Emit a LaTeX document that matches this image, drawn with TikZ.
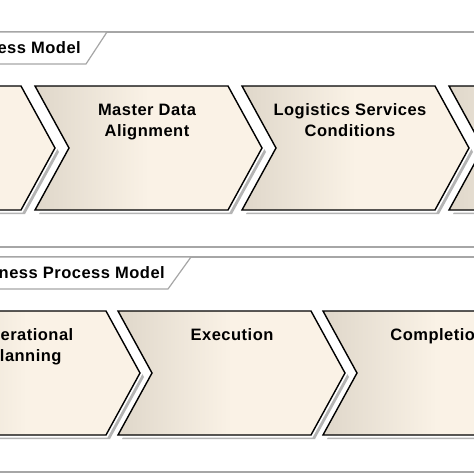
\documentclass[tikz,border=0pt]{standalone}
\usepackage{fontspec}
\setmainfont{Liberation Sans}[LetterSpace=3]
\definecolor{chevA}{HTML}{DFD7CA}
\definecolor{chevB}{HTML}{FAF2E6}
\definecolor{framegray}{HTML}{A6A6A6}
\definecolor{shadowgray}{HTML}{B4B4B4}
\pgfdeclarehorizontalshading{chevshade}{100bp}{color(0bp)=(chevA); color(25bp)=(chevA); color(50bp)=(chevB); color(100bp)=(chevB)}
\newcommand\chevpath[2]{(#1,#2) -- ++(193,0) -- ++(34,62) -- ++(-34,62) -- ++(-193,0) -- ++(34,-62) -- cycle}
\newcommand\chevron[2]{%
  \fill[shadowgray, shift={(4,4)}] \chevpath{#1}{#2};
  \draw[white, line width=5pt, line join=miter] \chevpath{#1}{#2};
  \shadedraw[shading=chevshade, draw=black, line width=1.4pt, line join=miter] \chevpath{#1}{#2};
}
\tikzset{
  framestyle/.style={draw=framegray, line width=1.4pt},
  tabstyle/.style={draw=framegray, line width=1.2pt, fill=white},
  tabtext/.style={font=\bfseries\fontsize{16.5}{20}\selectfont, inner sep=0pt},
  chevtext/.style={font=\bfseries\fontsize{16.5}{21.5}\selectfont, inner sep=0pt, align=center, anchor=base},
}
\begin{document}
\begin{tikzpicture}[x=1pt, y=-1pt]
\useasboundingbox (0,0) rectangle (474,474);
\fill[white] (0,0) rectangle (474,474);
% frames
\draw[framestyle] (-10,32) rectangle (484,247);
\draw[framestyle] (-10,257) rectangle (484,472);
% tabs
\draw[tabstyle] (-10,32) -- (107,32) -- (86,64) -- (-10,64) -- cycle;
\node[tabtext, anchor=base east] (tabA) at (81,53) {ess Model};
\draw[tabstyle] (-10,257) -- (191,257) -- (168,289) -- (-10,289) -- cycle;
\node[tabtext, anchor=base east] (tabB) at (165,278) {ness Process Model};
% top row chevrons
\chevron{-172}{86}
\chevron{35}{86}
\chevron{242}{86}
\chevron{449}{86}
\node[chevtext] (mda) at (147,136.5) {Master Data\\Alignment};
\node[chevtext] (lsc) at (350,136.5) {Logistics Services\\Conditions};
% bottom row chevrons
\chevron{-87}{311}
\chevron{118}{311}
\chevron{323}{311}
\node[chevtext] (opl) at (25,361.5) {Operational\\Planning};
\node[chevtext] (exe) at (232,340) {Execution};
\node[chevtext] (cmp) at (438,340) {Completion};
\end{tikzpicture}
\end{document}
